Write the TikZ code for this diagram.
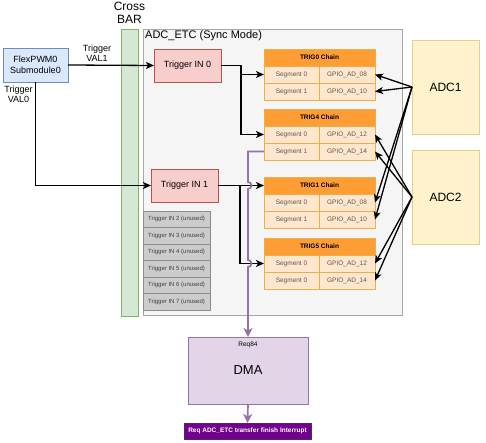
\documentclass[tikz,border=0pt]{standalone}
\usepackage{fontspec}
\setmainfont{Liberation Sans}
\usetikzlibrary{arrows.meta}
\definecolor{pwmfill}{HTML}{DAE8FC}\definecolor{pwmline}{HTML}{6C8EBF}
\definecolor{xbarfill}{HTML}{D5E8D4}\definecolor{xbarline}{HTML}{82B366}
\definecolor{etcfill}{HTML}{F5F5F5}\definecolor{etcline}{HTML}{A6A6A6}
\definecolor{tinfill}{HTML}{F8CECC}\definecolor{tinline}{HTML}{B85450}
\definecolor{headfill}{HTML}{FF9D35}\definecolor{rowfill}{HTML}{FFE6CC}
\definecolor{chainline}{HTML}{E6B04C}
\definecolor{adcfill}{HTML}{FFF2CC}\definecolor{adcline}{HTML}{E6CF8B}
\definecolor{dmafill}{HTML}{E1D5E7}\definecolor{dmaline}{HTML}{9673A6}
\definecolor{irqfill}{HTML}{74008F}\definecolor{irqline}{HTML}{4A2A60}
\tikzset{
  box/.style={draw, line width=0.8pt, inner sep=0pt, outer sep=0pt, anchor=north west, align=center},
  pwmbox/.style={box, fill=pwmfill, draw=pwmline, minimum width=65pt, minimum height=34pt, font=\fontsize{9}{10.5}\selectfont},
  tinbox/.style={box, fill=tinfill, draw=tinline, minimum width=67pt, minimum height=33pt, font=\fontsize{9}{10.5}\selectfont},
  unusedbox/.style={box, fill=black!20, draw=black!45, text=black!75, minimum width=67pt, minimum height=16.5pt, font=\fontsize{6}{7}\selectfont},
  chainhead/.style={box, fill=headfill, draw=chainline, minimum width=111pt, minimum height=17pt, font=\fontsize{6.5}{7}\selectfont\bfseries},
  segcell/.style={box, fill=rowfill, draw=chainline, text=black!65, minimum width=55pt, minimum height=17pt, font=\fontsize{6.5}{7}\selectfont},
  gpiocell/.style={segcell, minimum width=56pt},
  adcbox/.style={box, fill=adcfill, draw=adcline, minimum width=67pt, minimum height=94pt, font=\fontsize{12}{14}\selectfont},
  lbl/.style={align=center, inner sep=0pt, font=\fontsize{9}{10}\selectfont},
  conn/.style={line width=1.3pt, -{Stealth[length=8pt,width=7pt,inset=2pt]}},
  dmaconn/.style={draw=dmaline, line width=1.7pt, -{Stealth[length=9pt,width=9pt,inset=2.5pt]}},
}
\def\trigchain(#1:#2)[#3]#4#5#6#7{%
  \node[chainhead] (#1) at (264,#2) {#3};
  \node[segcell] (#1s0) at (264,{#2+17}) {#4};
  \node[gpiocell] (#1g0) at (319,{#2+17}) {#5};
  \node[segcell] (#1s1) at (264,{#2+34}) {#6};
  \node[gpiocell] (#1g1) at (319,{#2+34}) {#7};
}

\begin{document}
\begin{tikzpicture}[x=1pt, y=-1pt]
		%%%%% START %%%%%
		\useasboundingbox[fill=white] (0,0) rectangle (486,443);
		
		% ADC_ETC block and cross bar
		\node[box, fill=etcfill, draw=etcline, minimum width=259pt, minimum height=286pt] (etc) at (143,29) {};
		\node[anchor=north west, inner sep=0pt, font=\fontsize{11}{12}\selectfont] (etclbl) at (145,30) {ADC\_ETC (Sync Mode)};
		\node[box, fill=xbarfill, draw=xbarline, minimum width=17pt, minimum height=287pt] (xbar) at (121,29) {};
		\node[lbl, font=\fontsize{12}{13.5}\selectfont] (xbarlbl) at (129.5,13) {Cross\\BAR};
		
		\node[pwmbox] (pwm) at (3,48) {FlexPWM0\\Submodule0};
		\node[lbl] (val1) at (97,53.5) {Trigger\\VAL1};
		\node[lbl] (val0) at (18.5,94) {Trigger\\VAL0};
		
		\node[tinbox] (tin0) at (154,49) {Trigger IN 0};
		\node[tinbox] (tin1) at (151,169) {Trigger IN 1};
		\foreach \i in {2,...,7}
			\node[unusedbox] (unused\i) at (143,{211+(\i-2)*16.5}) {Trigger IN \i\ (unused)};
		
		% chains
		\trigchain(trig0:49)[TRIG0 Chain]{Segment 0}{GPIO\_AD\_08}{Segment 1}{GPIO\_AD\_10}
		\trigchain(trig4:109)[TRIG4 Chain]{Segment 0}{GPIO\_AD\_12}{Segment 1}{GPIO\_AD\_14}
		\trigchain(trig1:177)[TRIG1 Chain]{Segment 0}{GPIO\_AD\_08}{Segment 1}{GPIO\_AD\_10}
		\trigchain(trig5:238)[TRIG5 Chain]{Segment 0}{GPIO\_AD\_12}{Segment 0}{GPIO\_AD\_14}
		
		\node[adcbox] (adc1) at (412,40) {ADC1};
		\node[adcbox] (adc2) at (412,150) {ADC2};
		
		\node[box, fill=dmafill, draw=dmaline, minimum width=120pt, minimum height=67pt, font=\fontsize{13}{14}\selectfont] (dma) at (188,337) {DMA};
		\node[font=\fontsize{6.5}{7}\selectfont, inner sep=0pt] (req) at ([yshift=-8pt]dma.north) {Req84};
		\node[box, fill=irqfill, draw=irqline, text=white, minimum width=127pt, minimum height=16pt, font=\fontsize{6.5}{7}\selectfont\bfseries] (irq) at (184,423) {Req ADC\_ETC transfer finish Interrupt};
		
		% triggers
		\draw[conn] (pwm.east) -- (tin0.west);
		\draw[conn] (pwm.south) |- (tin1.west);
		\draw[conn] (tin0.east) -- ++(20,0) |- (trig0s0.west);
		\draw[conn] (tin0.east) -- ++(20,0) |- (trig4s0.west);
		\draw[conn] (tin1.east) -- (trig1.west);
		\draw[conn] (tin1.east) -- ++(22,0) |- (trig5s0.west);
		
		% ADC channels
		\foreach \c in {trig0g0,trig0g1,trig1g0,trig1g1}
			\draw[conn] (adc1.west) -- (\c.east);
		\foreach \c in {trig4g0,trig4g1,trig5g0,trig5g1}
			\draw[conn] (adc2.west) -- (\c.east);
		
		% DMA request
		\coordinate (hop1) at (dma.north |- tin1.east);
		\coordinate (hop2) at (dma.north |- trig5s0.west);
		\draw[dmaconn] (trig4s1.west) -| ([yshift=3.5pt]hop1) arc[start angle=-90, end angle=90, radius=3.5]
			-- ([yshift=3.5pt]hop2) arc[start angle=-90, end angle=90, radius=3.5] -- (dma.north);
		\draw[dmaconn] (dma.south) -- (irq.north);
		
		%%%%% END %%%%%
\end{tikzpicture}
\end{document}
